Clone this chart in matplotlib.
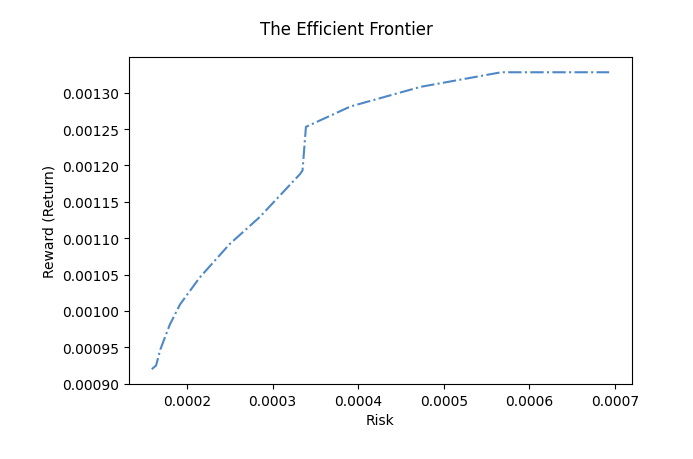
import matplotlib

matplotlib.use("Agg")
import matplotlib.pyplot as plt

risk = [0.000159, 0.000164, 0.000169, 0.000180, 0.000192, 0.000215, 0.000250,
        0.000285, 0.000332, 0.000335, 0.000339, 0.000391, 0.000473, 0.000567, 0.000693]
reward = [0.000920, 0.000925, 0.000947, 0.000981, 0.001009, 0.001046, 0.001092,
          0.001129, 0.001188, 0.001193, 0.001253, 0.001281, 0.001308, 0.001328, 0.001328]

fig = plt.figure(figsize=(6.93, 4.6), dpi=100)
ax = fig.add_axes([0.186, 0.163, 0.726, 0.71])
ax.plot(risk, reward, linestyle="-.", color="#4f88c6", linewidth=1.5)
ax.set_xlabel("Risk")
ax.set_ylabel("Reward (Return)")
fig.suptitle("The Efficient Frontier", y=0.955)
fig.savefig("out.png", dpi=100)
